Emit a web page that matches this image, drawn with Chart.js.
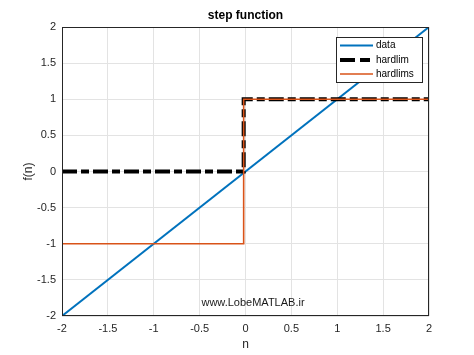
<!DOCTYPE html>
<html><head><meta charset="utf-8">
<script src="https://cdn.jsdelivr.net/npm/chart.js@4.4.1/dist/chart.umd.min.js"></script>
<style>html,body{margin:0;padding:0;background:#fff;}canvas{display:block;}</style>
</head><body>
<canvas id="c" width="474" height="355"></canvas>
<script>
const seriesNames = ["data", "hardlim", "hardlims"];
const dataX = [-2, 2];
const dataY = [-2, 2];
const hardlimX = [-2, -0.02, -0.02, 2];
const hardlimY = [0, 0, 1, 1];
const hardlimsX = [-2, -0.02, -0.02, 2];
const hardlimsY = [-1, -1, 1, 1];
const tickValues = [-2, -1.5, -1, -0.5, 0, 0.5, 1, 1.5, 2];
const titleText = "step function";
const xLabel = "n";
const yLabel = "f(n)";
const watermark = "www.LobeMATLAB.ir";

const FONT = "'Liberation Sans', Arial, Helvetica, sans-serif";
const AX = '#262626';
const pts = (xs, ys) => xs.map((x, i) => ({x: x, y: ys[i]}));

const decor = {
  id: 'decor',
  afterDraw(chart) {
    const ctx = chart.ctx, a = chart.chartArea;
    ctx.save();
    // axes box
    ctx.strokeStyle = AX; ctx.lineWidth = 1;
    ctx.strokeRect(a.left + 0.5, a.top + 0.5, a.right - a.left - 1, a.bottom - a.top - 1);
    // title
    ctx.fillStyle = '#000';
    ctx.font = "bold 12px " + FONT;
    ctx.textAlign = 'center'; ctx.textBaseline = 'middle';
    ctx.fillText(titleText, (a.left + a.right) / 2, 16);
    // axis labels
    ctx.fillStyle = AX;
    ctx.font = "12px " + FONT;
    ctx.fillText(xLabel, (a.left + a.right) / 2, 345);
    ctx.save();
    ctx.translate(29, (a.top + a.bottom) / 2);
    ctx.rotate(-Math.PI / 2);
    ctx.fillText(yLabel, 0, 0);
    ctx.restore();
    // watermark
    ctx.fillStyle = '#1a1a1a';
    ctx.font = "11px " + FONT;
    ctx.fillText(watermark, 253, 303);
    // legend
    const lx = 336, ly = 37, lw = 86, lh = 45;
    ctx.fillStyle = '#fff';
    ctx.fillRect(lx, ly, lw, lh);
    ctx.strokeStyle = AX; ctx.lineWidth = 1;
    ctx.strokeRect(lx + 0.5, ly + 0.5, lw, lh);
    const rows = [45.5, 60, 74];
    chart.data.datasets.forEach((ds, i) => {
      const y = rows[i];
      ctx.strokeStyle = ds.borderColor;
      ctx.lineWidth = ds.borderWidth;
      ctx.setLineDash(ds.legendDash || []);
      ctx.beginPath(); ctx.moveTo(340, y); ctx.lineTo(373, y); ctx.stroke();
      ctx.setLineDash([]);
      ctx.fillStyle = '#000';
      ctx.font = "10px " + FONT;
      ctx.textAlign = 'left';
      ctx.fillText(ds.label, 376, y);
    });
    ctx.restore();
  }
};

new Chart(document.getElementById('c'), {
  type: 'line',
  data: {
    datasets: [
      {label: seriesNames[0], data: pts(dataX, dataY), borderColor: '#0072BD', borderWidth: 2, pointRadius: 0, order: 2, tension: 0},
      {label: seriesNames[1], data: pts(hardlimX, hardlimY), borderColor: '#000000', borderWidth: 4, borderDash: [15, 4, 8, 4], legendDash: [15, 5, 10, 5], pointRadius: 0, order: 1, tension: 0},
      {label: seriesNames[2], data: pts(hardlimsX, hardlimsY), borderColor: '#D95319', borderWidth: 1.6, pointRadius: 0, order: 0, tension: 0}
    ]
  },
  options: {
    responsive: false,
    animation: false,
    events: [],
    layout: {padding: {top: 27, right: 45, left: 0, bottom: 0}},
    plugins: {legend: {display: false}, title: {display: false}, tooltip: {enabled: false}},
    scales: {
      x: {
        type: 'linear', min: -2, max: 2,
        afterBuildTicks: s => { s.ticks = tickValues.map(v => ({value: v})); },
        afterFit: s => { s.height = 39; },
        grid: {color: '#e3e3e3', drawTicks: false},
        border: {display: false},
        ticks: {color: AX, font: {family: FONT, size: 11}, padding: 6, maxRotation: 0,
                callback: v => String(v)}
      },
      y: {
        type: 'linear', min: -2, max: 2,
        afterBuildTicks: s => { s.ticks = tickValues.map(v => ({value: v})); },
        afterFit: s => { s.width = 62; },
        grid: {color: '#e3e3e3', drawTicks: false},
        border: {display: false},
        ticks: {color: AX, font: {family: FONT, size: 11}, padding: 6,
                callback: v => String(v)}
      }
    }
  },
  plugins: [decor]
});
</script>
</body></html>
